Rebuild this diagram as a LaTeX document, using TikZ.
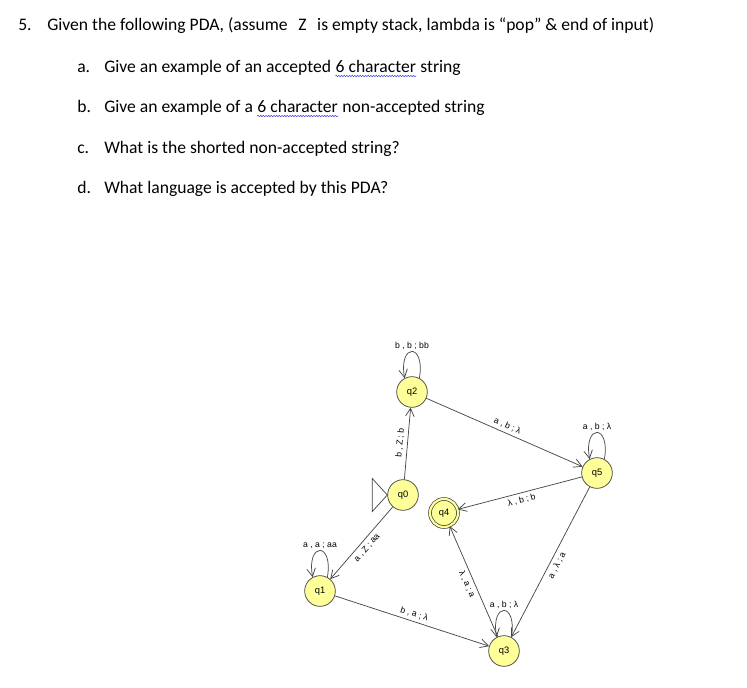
\documentclass[tikz,border=0pt]{standalone}
\usepackage{fontspec}
\setmainfont{Carlito}
\setsansfont{Liberation Sans}
\usepackage{xcolor}
\usepackage{tikz}
\usetikzlibrary{arrows.meta, positioning, decorations.pathmorphing}
\definecolor{statefill}{RGB}{255,255,153}
\definecolor{edgegray}{RGB}{70,70,70}
\definecolor{squigblue}{RGB}{70,70,220}
\tikzstyle{state} = [circle, draw=edgegray, fill=statefill, minimum size=23pt, inner sep=0pt, line width=0.55pt, font=\sffamily\fontsize{7}{8}\selectfont]
\tikzstyle{accepting} = [minimum size=21pt, double=statefill, double distance=1.6pt]
\tikzstyle{arrow} = [draw=edgegray, line width=0.55pt, -{Straight Barb[length=6pt,width=6.5pt]}]
\tikzstyle{trans} = [font=\sffamily\fontsize{6.5}{7}\selectfont, sloped, inner sep=2.5pt, midway]
\tikzstyle{looplabel} = [font=\sffamily\fontsize{6.5}{7}\selectfont, inner sep=1pt, midway, above]
\tikzstyle{selfloop} = [out=80, in=100, looseness=1, min distance=27pt]
\tikzstyle{question} = [anchor=base west, inner sep=0pt, font=\fontsize{13.2}{15}\selectfont]
\tikzstyle{squiggle} = [draw=squigblue, line width=0.4pt, decorate, decoration={snake, amplitude=0.5pt, segment length=2pt}]

\begin{document}
\begin{tikzpicture}[x=0.75pt, y=-0.75pt]
    \useasboundingbox (0,0) rectangle (747,687);

    % Questions
    \node (num) [question] at (18,30) {5.};
    \node (title) [question] at (47,30) {Given the following PDA, (assume\hspace{8pt}Z\hspace{8pt}is empty stack, lambda is “pop” \& end of input)};
    \node (la) [question] at (77,72) {a.};
    \node (qa) [question] at (104,72) {Give an example of an accepted};
    \node (qasix) [question] at ([xshift=3pt]qa.base east) {6 character};
    \node (qaend) [question] at ([xshift=3pt]qasix.base east) {string};
    \node (lb) [question] at (77,112) {b.};
    \node (qb) [question] at (104,112) {Give an example of a};
    \node (qbsix) [question] at ([xshift=3pt]qb.base east) {6 character};
    \node (qbend) [question] at ([xshift=3pt]qbsix.base east) {non-accepted string};
    \node (lc) [question] at (77,153) {c.};
    \node (qc) [question] at (104,153) {What is the shorted non-accepted string?};
    \node (ld) [question] at (77,193) {d.};
    \node (qd) [question] at (104,193) {What language is accepted by this PDA?};

    % Spell-check marks
    \draw [squiggle] ([yshift=-3pt]qasix.base west) -- ([yshift=-3pt]qasix.base east);
    \draw [squiggle] ([yshift=-3pt]qbsix.base west) -- ([yshift=-3pt]qbsix.base east);

    % States
    \node (q2) [state] at (412,392) {q2};
    \node (q0) [state] at (403,495) {q0};
    \node (q4) [state, accepting] at (444,513) {q4};
    \node (q5) [state] at (597,473) {q5};
    \node (q1) [state] at (320,591) {q1};
    \node (q3) [state] at (504,651) {q3};

    % Start
    \draw [draw=edgegray, line width=0.55pt, fill=white] (q0.west) -- ++(-15,-16.5) -- ++(0,33) -- cycle;

    % Transitions
    \draw [arrow] (q0) -- node[trans, above] {b , Z ; b} (q2);
    \draw [arrow] (q0) -- node[trans, below] {a , Z ; aa} (q1);
    \draw [arrow] (q2) -- node[trans, above] {a , b ; λ} (q5);
    \draw [arrow] (q5) -- node[trans, below] {λ , b ; b} (q4);
    \draw [arrow] (q5) -- node[trans, below] {a , λ ; a} (q3);
    \draw [arrow] (q3) -- node[trans, below] {λ , a ; a} (q4);
    \draw [arrow] (q1) -- node[trans, above] {b , a ; λ} (q3);

    % Loops
    \draw [arrow] (q2.62) to[selfloop] node[looplabel] {b , b ; bb} (q2.118);
    \draw [arrow] (q1.62) to[selfloop] node[looplabel] {a , a ; aa} (q1.118);
    \draw [arrow] (q5.62) to[selfloop] node[looplabel] {a , b ; λ} (q5.118);
    \draw [arrow] (q3.62) to[selfloop] node[looplabel] {a , b ; λ} (q3.118);
\end{tikzpicture}
\end{document}
